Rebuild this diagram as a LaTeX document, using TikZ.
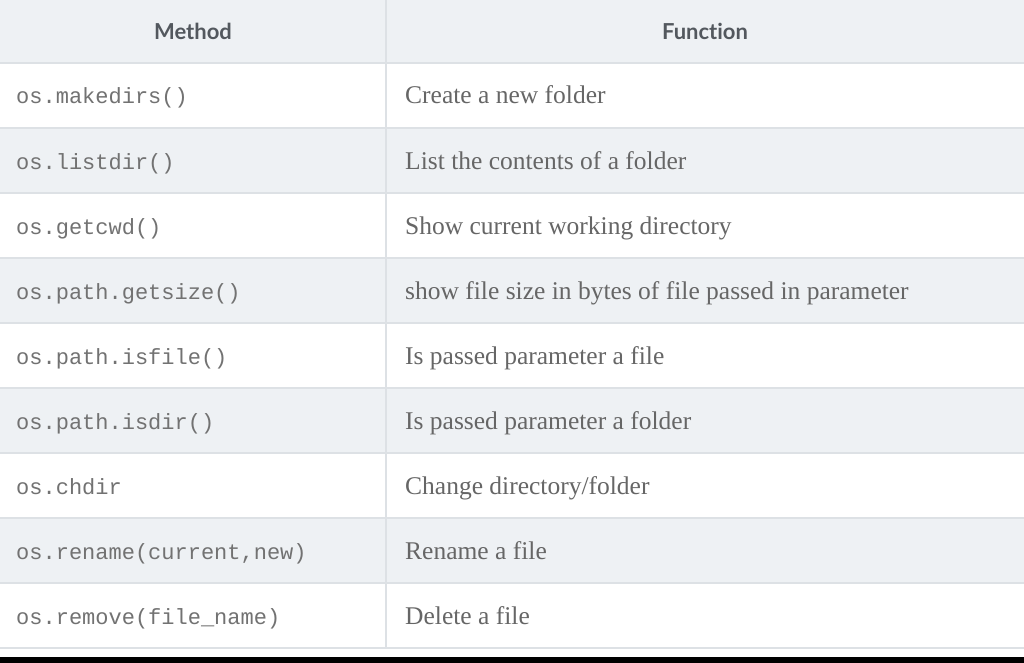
\documentclass[tikz,border=0pt]{standalone}
\usepackage{fontspec}
\setmainfont{Liberation Serif}
\setmonofont{Liberation Mono}
\newfontfamily\headfont[Ligatures=NoCommon]{Lato}
\definecolor{rowgray}{HTML}{EEF1F4}
\definecolor{rulegray}{HTML}{DDE1E5}
\definecolor{textgray}{HTML}{666666}
\definecolor{codegray}{HTML}{727272}
\definecolor{headgray}{HTML}{53585E}
\begin{document}
\begin{tikzpicture}[x=1pt,y=-1pt,
    head/.style={anchor=base, text=headgray, inner sep=0pt, font=\headfont\bfseries\fontsize{22}{26}\selectfont},
    method/.style={anchor=base west, text=codegray, inner sep=0pt, font=\ttfamily\fontsize{22}{26}\selectfont},
    func/.style={anchor=base west, text=textgray, inner sep=0pt, font=\fontsize{25.5}{30}\selectfont}]
        \useasboundingbox (0,0) rectangle (1024,663);
        \fill [color=white] (0,0) rectangle (1024,663);
        \fill [color=rowgray] (0,0) rectangle (1024,63);
        \foreach \r in {2,4,6,8}
            {\fill [color=rowgray] (0,63+65*\r-65) rectangle (1024,63+65*\r);}
        \foreach \k in {0,...,9}
            {\draw [rulegray, line width=1.5pt] (0,63+65*\k) -- (1024,63+65*\k);}
        \draw [rulegray, line width=1.5pt] (386,0) -- (386,648);
        \fill [color=black] (0,657) rectangle (1024,663);

        \node [head] (hmethod) at (193,40) {Method};
        \node [head] (hfunc) at (705,40) {Function};

        \foreach \i/\m/\f in {1/os.makedirs()/Create a new folder,
                              2/os.listdir()/List the contents of a folder,
                              3/os.getcwd()/Show current working directory,
                              4/os.path.getsize()/show file size in bytes of file passed in parameter,
                              5/os.path.isfile()/Is passed parameter a file,
                              6/os.path.isdir()/Is passed parameter a folder,
                              7/os.chdir/Change directory\slash folder,
                              8/{os.rename(current,new)}/Rename a file,
                              9/os.remove(file\_name)/Delete a file}
            {\node [method] (m\i) at (16,39+65*\i) {\m};
             \node [func] (f\i) at (405,39+65*\i) {\f};}
    \end{tikzpicture}
\end{document}
